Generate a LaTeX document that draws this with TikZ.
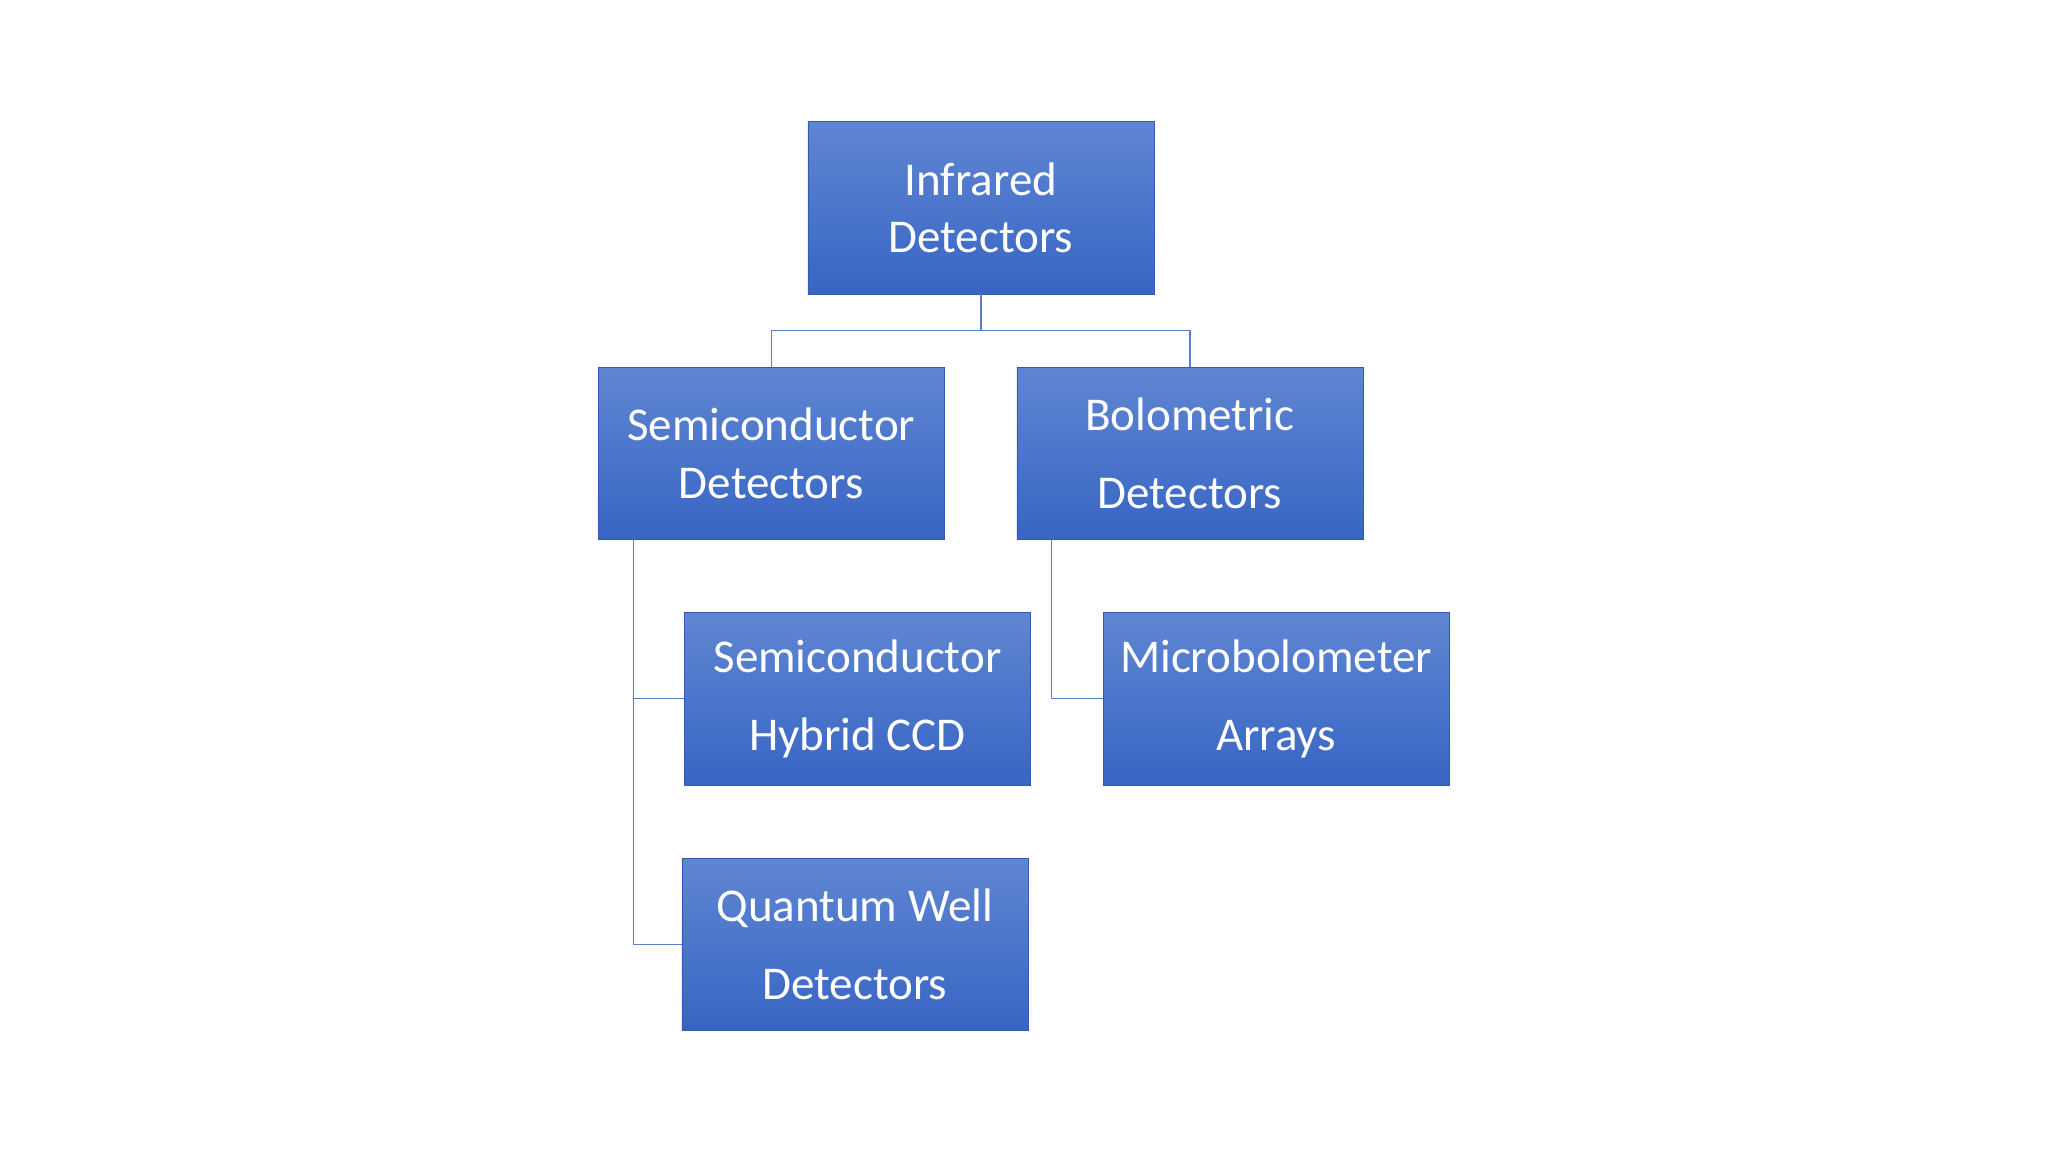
\documentclass[tikz,border=0pt]{standalone}
\usepackage{fontspec}
\setmainfont{Carlito}
\begin{document}
\begin{tikzpicture}[x=1pt,y=-1pt,
  box/.style={minimum width=265pt,minimum height=132pt,inner sep=0pt,
    top color=blue1,bottom color=blue2,draw=blue2!90!black,line width=0.4pt,
    text=white,align=center,font=\fontsize{36}{44}\selectfont},
  wide/.style={font=\fontsize{36}{60}\selectfont},
  conn/.style={draw=lineblue,line width=1pt}]
\definecolor{blue1}{HTML}{5F86D2}
\definecolor{blue2}{HTML}{3865C4}
\definecolor{lineblue}{HTML}{5A7FC8}
\useasboundingbox (0,0) rectangle (1568,882);
\node[box] (ir) at (751,159) {Infrared\\Detectors};
\node[box] (sd) at (590.5,347) {Semiconductor\\Detectors};
\node[box,wide] (bd) at (911,347) {Bolometric\\Detectors};
\node[box,wide] (hc) at (656.5,535) {Semiconductor\\Hybrid CCD};
\node[box,wide] (mb) at (977,535) {Microbolometer\\Arrays};
\node[box,wide] (qw) at (654.5,723) {Quantum Well\\Detectors};
\coordinate (j) at (751,253);
\draw[conn] (ir.south) -- (j);
\draw[conn] (j) -| (sd.north);
\draw[conn] (j) -| (bd.north);
\coordinate (sl) at (485,413);
\coordinate (bl) at (805,413);
\draw[conn] (sl) |- (hc.west);
\draw[conn] (sl) |- (qw.west);
\draw[conn] (bl) |- (mb.west);
\end{tikzpicture}
\end{document}
